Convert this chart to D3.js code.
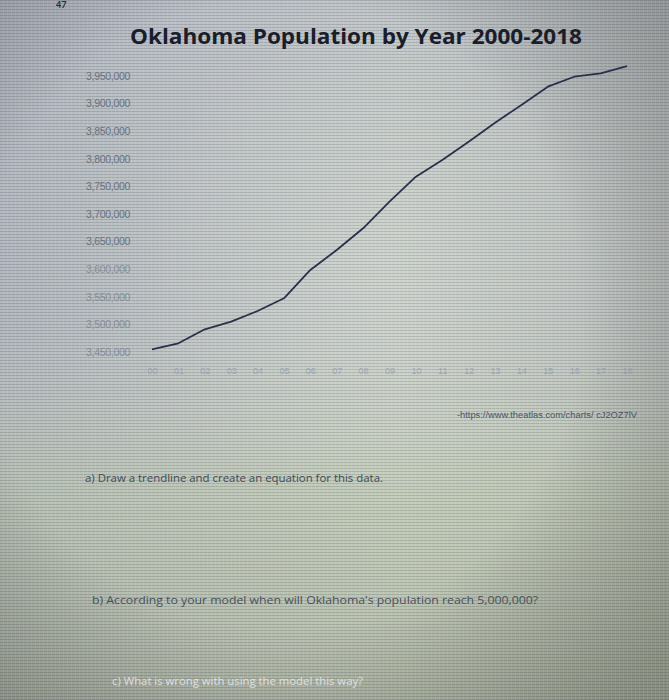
<!DOCTYPE html>
<html>
<head>
<meta charset="utf-8">
<script src="https://cdn.jsdelivr.net/npm/d3@7"></script>
<style>
html,body{margin:0;padding:0;background:#bcc2bc;}
svg{display:block;}
</style>
</head>
<body>
<svg id="chart" width="669" height="700"></svg>
<script>
// ---- data ----
const years = [2000,2001,2002,2003,2004,2005,2006,2007,2008,2009,2010,2011,2012,2013,2014,2015,2016,2017,2018];
const population = [3454900,3465800,3491100,3504900,3524300,3547300,3598600,3634800,3674100,3722300,3767600,3797800,3831000,3865400,3897500,3930600,3948700,3954900,3968100];
const yTicks = [3450000,3500000,3550000,3600000,3650000,3700000,3750000,3800000,3850000,3900000,3950000];
const xTickLabels = ["00","01","02","03","04","05","06","07","08","09","10","11","12","13","14","15","16","17","18"];
const titleText = "Oklahoma Population by Year 2000-2018";
const sourceText = "-https://www.theatlas.com/charts/ cJ2OZ7lV";
const questions = [
  "a)   Draw a trendline and create an equation for this data.",
  "b)   According to your model when will Oklahoma's population reach 5,000,000?",
  "c)   What is wrong with using the model this way?"
];

const svg = d3.select("#chart");
const W = 669, H = 700;
const defs = svg.append("defs");

// background gradients (photo of a screen)
const g1 = defs.append("linearGradient").attr("id","bgH").attr("x1",0).attr("y1",0).attr("x2",1).attr("y2",0);
[[0,"#a9aeb8"],[0.25,"#b7bcc0"],[0.6,"#c4cac4"],[1,"#b6bab9"]].forEach(s=>g1.append("stop").attr("offset",s[0]).attr("stop-color",s[1]));
const g2 = defs.append("linearGradient").attr("id","bgV").attr("x1",0).attr("y1",0).attr("x2",0).attr("y2",1);
[[0,"#b0b4c2",0.4],[0.45,"#c8cfbe",0.1],[0.7,"#bac6a4",0.5],[1,"#a2aa8e",0.6]].forEach(s=>g2.append("stop").attr("offset",s[0]).attr("stop-color",s[1]).attr("stop-opacity",s[2]));
const g3 = defs.append("radialGradient").attr("id","vig").attr("cx",0.42).attr("cy",0.45).attr("r",0.75);
[[0,"#000",0],[0.6,"#000",0],[1,"#202418",0.3]].forEach(s=>g3.append("stop").attr("offset",s[0]).attr("stop-color",s[1]).attr("stop-opacity",s[2]));
const g4 = defs.append("radialGradient").attr("id","glow").attr("cx",0.55).attr("cy",0.38).attr("r",0.35);
[[0,"#dde2da",0.25],[1,"#dde2da",0]].forEach(s=>g4.append("stop").attr("offset",s[0]).attr("stop-color",s[1]).attr("stop-opacity",s[2]));

const pat = defs.append("pattern").attr("id","scan").attr("width",4).attr("height",3).attr("patternUnits","userSpaceOnUse");
pat.append("rect").attr("width",4).attr("height",1).attr("fill","#505868").attr("opacity",0.2);
pat.append("rect").attr("y",1.5).attr("width",4).attr("height",1).attr("fill","#ffffff").attr("opacity",0.16);
pat.append("rect").attr("x",3).attr("width",1).attr("height",3).attr("fill","#ffffff").attr("opacity",0.07);

svg.append("rect").attr("width",W).attr("height",H).attr("fill","url(#bgH)");
svg.append("rect").attr("width",W).attr("height",H).attr("fill","url(#bgV)");
svg.append("rect").attr("width",W).attr("height",H).attr("fill","url(#glow)");
svg.append("rect").attr("width",W).attr("height",H).attr("fill","url(#vig)");
svg.append("rect").attr("width",W).attr("height",H).attr("fill","url(#scan)");
// small dark mark at top left (page number edge)
svg.append("text").attr("x",56).attr("y",8).attr("font-family","Lato, sans-serif").attr("font-size",9).attr("font-weight","bold").attr("fill","#262a3a").text("47");

// title
svg.append("text")
  .attr("x",130).attr("y",44)
  .attr("font-family","'Open Sans', Lato, sans-serif")
  .attr("font-weight","bold").attr("font-size",22)
  .attr("fill","#1a1d2c")
  .attr("textLength",452).attr("lengthAdjust","spacingAndGlyphs")
  .text(titleText);

// scales
const x = d3.scaleLinear().domain([2000,2018]).range([152,627]);
const y = d3.scaleLinear().domain([3450000,3950000]).range([352,76]);

// y axis
const yAxis = svg.append("g").attr("transform","translate(130,0)")
  .call(d3.axisLeft(y).tickValues(yTicks).tickFormat(d3.format(",")).tickSize(0).tickPadding(0));
yAxis.select(".domain").remove();
yAxis.selectAll("text")
  .attr("font-family","'Liberation Sans Narrow','Liberation Sans',sans-serif")
  .attr("font-size",10.5).attr("fill","#6a7380")
  .attr("letter-spacing",-0.3);
yAxis.selectAll(".tick").attr("opacity",(d)=> d < 3620000 ? 0.6 : 1);

// x axis
const xAxis = svg.append("g").attr("transform","translate(0,368)")
  .call(d3.axisBottom(x).tickValues(years).tickFormat((d,i)=>xTickLabels[i]).tickSize(0).tickPadding(0));
xAxis.select(".domain").remove();
xAxis.selectAll("text")
  .attr("font-family","'Liberation Sans',sans-serif")
  .attr("font-size",9).attr("fill","#8e9cb0").attr("opacity",0.75);

// line
const line = d3.line().x((d,i)=>x(years[i])).y(d=>y(d)).curve(d3.curveLinear);
svg.append("path").datum(population)
  .attr("d",line)
  .attr("fill","none")
  .attr("stroke","#28304a")
  .attr("stroke-width",1.8)
  .attr("stroke-linejoin","round");

// source
svg.append("text").attr("x",457).attr("y",418)
  .attr("font-family","'Liberation Sans',sans-serif").attr("font-size",8.5)
  .attr("fill","#4a5568").attr("textLength",180).attr("lengthAdjust","spacingAndGlyphs")
  .text(sourceText);

// questions
const qFont = "'Open Sans', Lato, sans-serif";
svg.append("text").attr("x",85).attr("y",482).attr("font-family",qFont).attr("font-size",11)
  .attr("fill","#414b58").attr("textLength",298).attr("lengthAdjust","spacingAndGlyphs").text(questions[0]);
svg.append("text").attr("x",92).attr("y",604).attr("font-family",qFont).attr("font-size",11)
  .attr("fill","#465060").attr("textLength",446).attr("lengthAdjust","spacingAndGlyphs").text(questions[1]);
svg.append("text").attr("x",112).attr("y",685).attr("font-family",qFont).attr("font-size",10.5)
  .attr("fill","#e6eaee").attr("opacity",0.85).attr("textLength",251).attr("lengthAdjust","spacingAndGlyphs").text(questions[2]);
</script>
</body>
</html>
